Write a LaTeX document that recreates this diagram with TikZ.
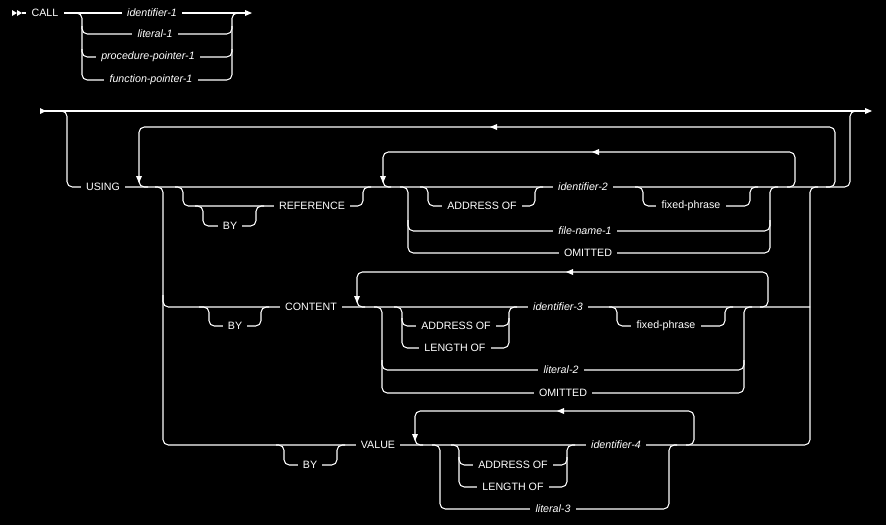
\documentclass[tikz,border=0pt]{standalone}
\usepackage{fontspec}
\setmainfont{Liberation Sans}
\begin{document}
\begin{tikzpicture}[x=0.75pt,y=-0.75pt,
  rr/.style={draw=white,line width=0.8pt,rounded corners=4},
  t/.style={fill=black,text=white,inner xsep=4pt,inner ysep=1pt,font=\fontsize{8}{9}\selectfont},
  v/.style={t,font=\fontsize{8}{9}\selectfont\itshape},
  ad/.pic={\fill[white] (-3,-7)--(3,-7)--(0,0)--cycle;},
  al/.pic={\fill[white] (0,0)--(7,-3)--(7,3)--cycle;},
  ar/.pic={\fill[white] (0,0)--(-7,-3)--(-7,3)--cycle;}]
\fill[black] (0,0) rectangle (886,525);
\useasboundingbox (0,0) rectangle (886,525);
% ---------- CALL
\fill[white] (12,10)--(17,13)--(12,16)--cycle;
\fill[white] (17,10)--(22,13)--(17,16)--cycle;
\draw[rr] (22,13)--(26,13);
\draw[rr] (62,13)--(246,13);
\pic at (252,13) {ar};
\draw[rr] (74,13) -| (82,80) -| (232,13) -- (240,13);
\draw[rr] (82,26) |- (150,34) -| (232,26);
\draw[rr] (82,49) |- (150,57) -| (232,49);
\node[t] (call) at (45,13) {CALL};
\node[v] (i1) at (152,13) {identifier-1};
\node[v] (l1) at (155,34) {literal-1};
\node[v] (pp) at (148,57) {procedure-pointer-1};
\node[v] (fp) at (151,80) {function-pointer-1};
% ---------- main frame
\fill[white] (40,108)--(46,111)--(40,114)--cycle;
\draw[rr] (44,111)--(866,111);
\pic at (872,111) {ar};
\draw[rr] (58,111) -| (67,187) -- (850,187) |- (858,111);
% big loop
\draw[rr] (826,187) -| (835,127) -| (139,187) -- (148,187);
\pic at (490,127) {al};
\pic at (139,183) {ad};
% REFERENCE row
\draw[rr] (175,187) -| (183,206) -| (363,187) -- (371,187);
\draw[rr] (195,206) -| (203,226) -| (256,206) -- (264,206);
\draw[rr] (787,187) -| (795,152) -| (383,187) -- (391,187);
\pic at (592,152) {al};
\pic at (383,183) {ad};
\draw[rr] (400,187) -| (408,253) -| (770,187) -- (778,187);
\draw[rr] (408,220) |- (500,231) -| (770,220);
\draw[rr] (420,187) -| (428,206) -| (535,187) -- (543,187);
\draw[rr] (635,187) -| (643,206) -| (750,187) -- (758,187);
% CONTENT / VALUE trunk
\draw[rr] (155,187) -| (163,445) -| (810,187) -- (818,187);
\draw[rr] (163,295) |- (300,307) -- (810,307);
\draw[rr] (199,307) -| (209,326) -| (261,307) -- (269,307);
\draw[rr] (760,307) -| (768,272) -| (357,307) -- (365,307);
\pic at (566,272) {al};
\pic at (357,303) {ad};
\draw[rr] (374,307) -| (382,393) -| (744,307) -- (752,307);
\draw[rr] (382,360) |- (500,370) -| (744,360);
\draw[rr] (394,307) -| (402,348) -| (509,307) -- (517,307);
\draw[rr] (402,318) |- (450,326) -| (509,318);
\draw[rr] (609,307) -| (617,326) -| (725,307) -- (733,307);
% VALUE
\draw[rr] (276,445) -| (284,465) -| (337,445) -- (345,445);
\draw[rr] (686,445) -| (694,411) -| (415,445) -- (423,445);
\pic at (557,411) {al};
\pic at (415,441) {ad};
\draw[rr] (432,445) -| (440,509) -| (669,445) -- (677,445);
\draw[rr] (451,445) -| (459,487) -| (567,445) -- (575,445);
\draw[rr] (459,457) |- (500,465) -| (567,457);
% texts
\node[t] (using) at (103,187) {USING};
\node[t] (by1) at (230,226) {BY};
\node[t] (ref) at (312,206) {REFERENCE};
\node[v] (i2) at (583,187) {identifier-2};
\node[t] (ad1) at (482,206) {ADDRESS OF};
\node[t] (fx1) at (691,206) {fixed-phrase};
\node[v] (fn1) at (585,231) {file-name-1};
\node[t] (om1) at (588,253) {OMITTED};
\node[t] (by2) at (235,326) {BY};
\node[t] (con) at (311,307) {CONTENT};
\node[v] (i3) at (558,307) {identifier-3};
\node[t] (ad2) at (456,326) {ADDRESS OF};
\node[t] (le2) at (455,348) {LENGTH OF};
\node[t] (fx2) at (666,326) {fixed-phrase};
\node[v] (l2) at (561,370) {literal-2};
\node[t] (om2) at (563,393) {OMITTED};
\node[t] (by3) at (310,465) {BY};
\node[t] (val) at (378,445) {VALUE};
\node[v] (i4) at (616,445) {identifier-4};
\node[t] (ad3) at (513,465) {ADDRESS OF};
\node[t] (le3) at (513,487) {LENGTH OF};
\node[v] (l3) at (553,509) {literal-3};
\end{tikzpicture}
\end{document}
